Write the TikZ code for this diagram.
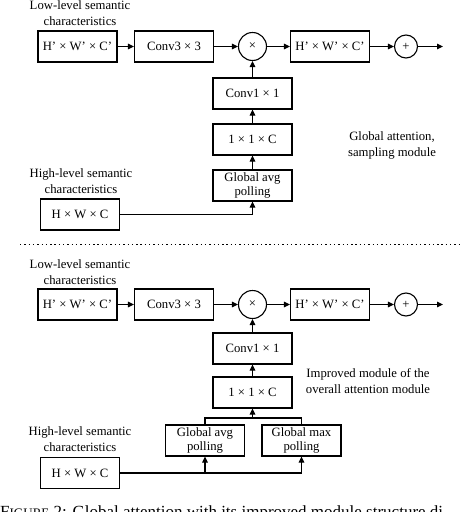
\documentclass[tikz,border=0pt]{standalone}
\usepackage{fontspec}
\setmainfont{Liberation Serif}
\usetikzlibrary{arrows.meta,calc}
\begin{document}
\begin{tikzpicture}[x=1pt,y=-1pt,
  every node/.style={font=\fontsize{12.7}{16}\selectfont},
  box/.style={draw,line width=1.1pt,minimum width=79pt,minimum height=31pt,inner sep=0pt,align=center},
  pbox/.style={box,font=\fontsize{12.7}{14}\selectfont},
  opcirc/.style={draw,circle,line width=1.1pt,inner sep=0pt},
  lab/.style={align=center,inner sep=0pt},
  conn/.style={line width=1.1pt,-{Triangle[length=6pt,width=5.5pt]}},
  wire/.style={line width=1.1pt}]
\useasboundingbox (0,0) rectangle (474,512);
% ---------- top section ----------
\node[lab] (lo1) at (80,13) {Low-level semantic\\characteristics};
\node[box] (A1) at (77.5,46.5) {H’ × W’ × C’};
\node[box] (A2) at (174,46.5) {Conv3 × 3};
\node[opcirc,minimum size=28pt] (X1) at (252.5,46.5) {×};
\node[box] (A3) at (330,46.5) {H’ × W’ × C’};
\node[opcirc,minimum size=23pt] (P1) at (406,46.5) {+};
\coordinate (O1) at (443,46.5);
\node[box] (C1) at (252.5,93.5) {Conv1 × 1};
\node[box] (D1) at (252.5,139.5) {1 × 1 × C};
\node[pbox] (G1) at (252.5,185.5) {Global avg\\polling};
\node[lab] (hi1) at (81,181) {High-level semantic\\characteristics};
\node[box] (H1) at (80,214.5) {H × W × C};
\node[lab] (n1) at (392,145) {Global attention,\\sampling module};
\draw[conn] (A1) -- (A2);
\draw[conn] (A2) -- (X1);
\draw[conn] (X1) -- (A3);
\draw[conn] (A3) -- (P1);
\draw[conn] (P1) -- (O1);
\draw[conn] (C1) -- (X1);
\draw[conn] (D1) -- (C1);
\draw[conn] (G1) -- (D1);
\draw[conn] (H1.east) -| (G1.south);
% ---------- separator ----------
\coordinate (S1) at (20,244);
\coordinate (S2) at (462,244);
\draw[line width=1pt,dash pattern=on 1.4pt off 2.9pt] (S1) -- (S2);
% ---------- bottom section ----------
\node[lab] (lo2) at (80,272.5) {Low-level semantic\\characteristics};
\node[box] (B1) at (77.5,304.5) {H’ × W’ × C’};
\node[box] (B2) at (174,304.5) {Conv3 × 3};
\node[opcirc,minimum size=28pt] (X2) at (252.5,304.5) {×};
\node[box] (B3) at (330,304.5) {H’ × W’ × C’};
\node[opcirc,minimum size=23pt] (P2) at (406,304.5) {+};
\coordinate (O2) at (443,304.5);
\node[box] (C2) at (252.5,348.5) {Conv1 × 1};
\node[box] (D2) at (252.5,392.5) {1 × 1 × C};
\node[pbox] (GA) at (205,440.5) {Global avg\\polling};
\node[pbox] (GM) at (301.5,440.5) {Global max\\polling};
\node[lab] (hi2) at (80,439.5) {High-level semantic\\characteristics};
\node[box] (H2) at (80,473) {H × W × C};
\node[lab] (n2) at (368,381) {Improved module of the\\overall attention module};
\coordinate (J) at (252.5,418);
\draw[conn] (B1) -- (B2);
\draw[conn] (B2) -- (X2);
\draw[conn] (X2) -- (B3);
\draw[conn] (B3) -- (P2);
\draw[conn] (P2) -- (O2);
\draw[conn] (C2) -- (X2);
\draw[conn] (D2) -- (C2);
\draw[wire] (GA.north) -- (GA.north |- J) -- (GM.north |- J) -- (GM.north);
\draw[conn] (J) -- (D2.south);
\draw[conn] (H2.east) -| (GM.south);
\draw[conn] (GA.south |- H2.east) -- (GA.south);
% ---------- caption (cut by the frame, as in the reference) ----------
\begin{scope}
\clip (0,0) rectangle (474,512);
\node[anchor=base west,inner sep=0pt,font=\fontsize{17}{20}\selectfont] (cap) at (0,517)
  {F{\fontsize{13}{16}\selectfont IGURE} 2: Global attention with its improved module structure di};
\end{scope}
\end{tikzpicture}
\end{document}
